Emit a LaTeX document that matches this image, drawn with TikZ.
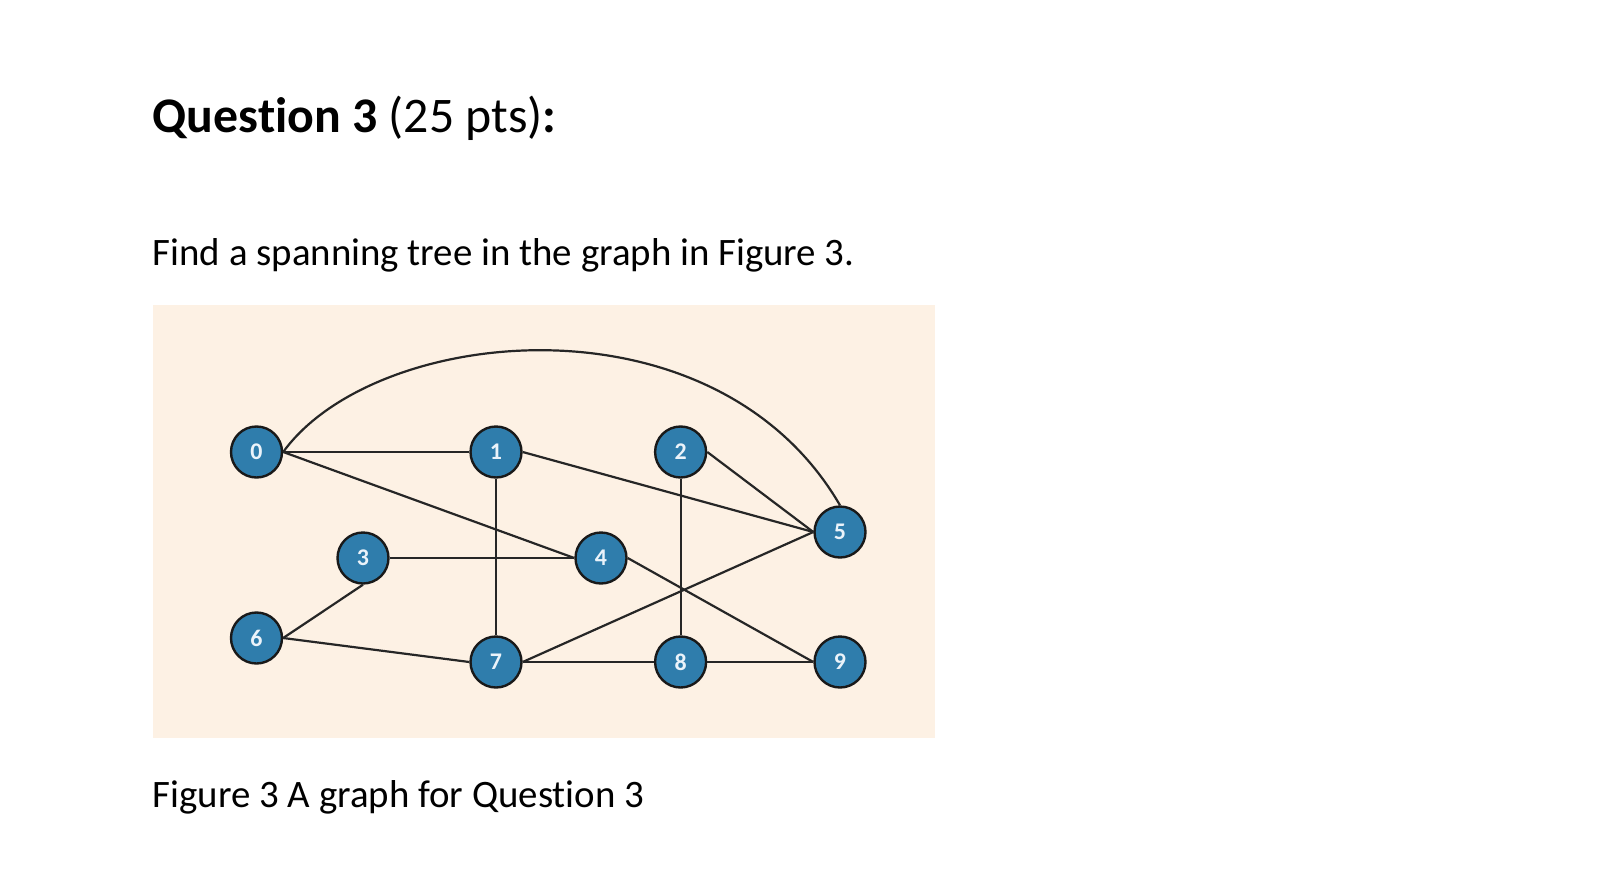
\documentclass[tikz,border=0pt]{standalone}
\usepackage{fontspec}
\setmainfont[Ligatures=NoCommon]{Carlito}
\definecolor{vblue}{RGB}{47,125,172}
\definecolor{vtext}{RGB}{235,243,250}
\definecolor{figbg}{RGB}{253,241,228}

\begin{document}
\begin{tikzpicture}[x=1bp,y=-1bp]

\tikzstyle{vertex}=[shape=circle,draw=black!90,line width=2.4bp,fill=vblue,
minimum size=51bp,inner sep=0pt,text=vtext,font=\fontsize{24}{24}\selectfont\bfseries]
\tikzstyle{edge}=[draw=black!85,line width=2.2bp]
\tikzstyle{textline}=[anchor=base west,inner sep=0pt]

\useasboundingbox (0,0) rectangle (1617,894);

\node[textline,font=\fontsize{50}{60}\selectfont] (title) at (152.6,132)
{\textbf{Question 3} (25 pts)\textbf{:}};
\node[textline,font=\fontsize{39}{46}\selectfont] (task) at (152.6,265)
{Find a spanning tree in the graph in Figure 3.};

\fill[figbg] (152.6,305.3) rectangle (935.3,738.4);

\node[vertex] (v0) at (256.5,452) {0};
\node[vertex] (v1) at (496,452) {1};
\node[vertex] (v2) at (680.6,452) {2};
\node[vertex] (v5) at (840,532) {5};
\node[vertex] (v3) at (363,558) {3};
\node[vertex] (v4) at (601,558) {4};
\node[vertex] (v6) at (256.5,638) {6};
\node[vertex] (v7) at (496,662) {7};
\node[vertex] (v8) at (680.6,662) {8};
\node[vertex] (v9) at (840,662) {9};

\draw[edge] (v0.east) -- (v1.west);
\draw[edge] (v0.east) -- (v4.west);
\draw[edge] (v0.east) .. controls (375,325) and (715,290) .. (v5.north);
\draw[edge] (v1.east) -- (v5.west);
\draw[edge] (v1.south) -- (v7.north);
\draw[edge] (v2.east) -- (v5.west);
\draw[edge] (v2.south) -- (v8.north);
\draw[edge] (v3.east) -- (v4.west);
\draw[edge] (v3.south) -- (v6.east);
\draw[edge] (v4.east) -- (v9.west);
\draw[edge] (v5.west) -- (v7.east);
\draw[edge] (v6.east) -- (v7.west);
\draw[edge] (v7.east) -- (v8.west);
\draw[edge] (v8.east) -- (v9.west);

\node[textline,font=\fontsize{39}{46}\selectfont] (caption) at (152.6,807)
{Figure 3 A graph for Question 3};
\end{tikzpicture}
\end{document}
